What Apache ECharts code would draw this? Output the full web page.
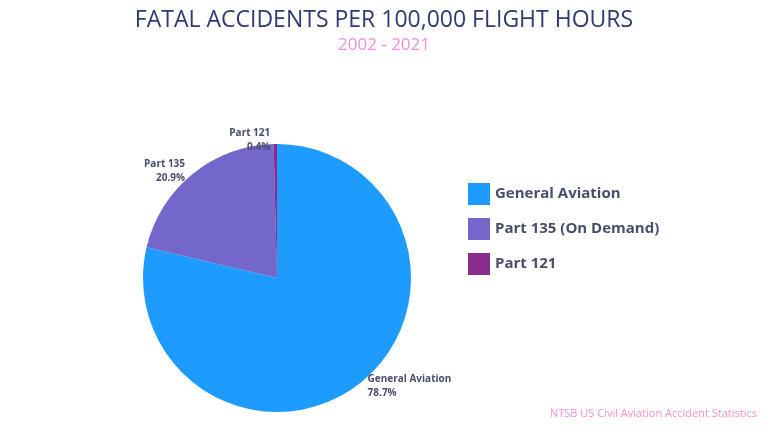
<!DOCTYPE html>
<html><head><meta charset="utf-8">
<script src="https://cdn.jsdelivr.net/npm/echarts@6/dist/echarts.min.js"></script>
<style>html,body{margin:0;padding:0;background:#fff}#c{width:768px;height:432px}</style>
</head><body><div id="c"></div>
<script>
const categories = ['General Aviation', 'Part 135 (On Demand)', 'Part 121'];
const shortLabels = ['General Aviation', 'Part 135', 'Part 121'];
const values = [78.7, 20.9, 0.4];
const colors = ['#1E9BFF', '#7467CB', '#8A2A8C'];
const chart = echarts.init(document.getElementById('c'));
chart.setOption({
  animation: false,
  title: [{
    text: 'FATAL ACCIDENTS PER 100,000 FLIGHT HOURS', left: 'center', top: 4,
    textStyle: {fontFamily: 'Open Sans', fontSize: 23, fontWeight: 'normal', color: '#2F3A73'}
  }, {
    text: '2002 - 2021', left: 'center', top: 32,
    textStyle: {fontFamily: 'Open Sans', fontSize: 17, fontWeight: 'normal', color: '#F48FD3'}
  }, {
    text: 'NTSB US Civil Aviation Accident Statistics', right: 6, bottom: 8,
    textStyle: {fontFamily: 'Open Sans', fontSize: 11, fontWeight: 'normal', color: '#F48FD3'}
  }],
  legend: {
    orient: 'vertical', left: 463, top: 178, itemWidth: 22, itemHeight: 22, itemGap: 13,
    icon: 'rect',
    textStyle: {fontFamily: 'Open Sans', fontSize: 15, fontWeight: 'bold', color: '#4A4E6E'},
    data: categories
  },
  series: [{
    type: 'pie', center: [277, 278], radius: 134, startAngle: 90, clockwise: true,
    color: colors,
    data: categories.map((c, i) => ({name: c, value: values[i]})),
    label: {
      show: true, position: 'outside',
      formatter: p => shortLabels[p.dataIndex] + '\n' + values[p.dataIndex].toFixed(1) + '%',
      fontFamily: 'Open Sans', fontSize: 10, fontWeight: 'bold', color: '#4A4E6E', lineHeight: 14
    },
    labelLine: {show: false, length: 4, length2: 0},
    emphasis: {disabled: true}
  }]
});
</script></body></html>
